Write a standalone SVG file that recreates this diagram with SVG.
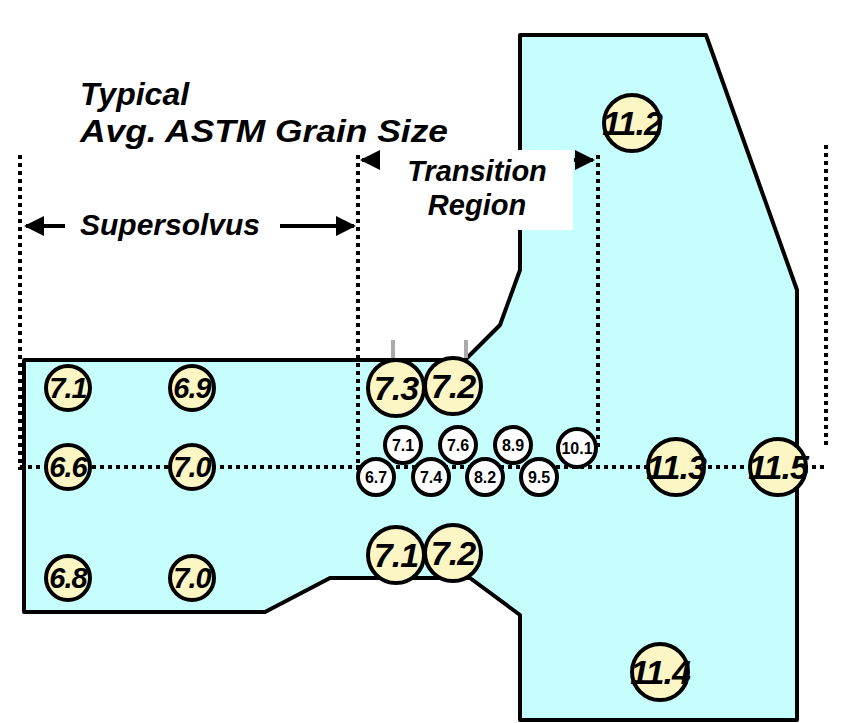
<svg xmlns="http://www.w3.org/2000/svg" width="865" height="723" viewBox="0 0 865 723">
<style>
text{font-family:"Liberation Sans",Arial,sans-serif;font-weight:bold;font-style:italic;fill:#000}
.big circle{fill:#fbf6c4;stroke:#000;stroke-width:4}
.big text{font-size:29px;text-anchor:middle;letter-spacing:-1px}
.l text{font-size:34px}
.sm circle{fill:#fff;stroke:#000;stroke-width:4}
.sm text{font-size:16px;text-anchor:middle;font-style:normal}
.dot{stroke:#000;stroke-width:4;stroke-dasharray:4 4;fill:none}
.ar{stroke:#000;stroke-width:4;fill:none}
</style>
<defs><marker id="ah" viewBox="0 0 10 10" refX="9" refY="5" markerWidth="5" markerHeight="5" orient="auto"><path d="M0,0L10,5L0,10z" fill="#000"/></marker></defs>
<g id="part">
<path d="M24,360L465,360L500,325L520,270L520,35L706,35L797,290L797,720L520,720L520,615L470,578L330,578L265,612L24,612Z" fill="#c6fdfd" stroke="#000" stroke-width="4" stroke-linejoin="round"/>
</g>
<rect x="357" y="150" width="216" height="80" fill="#fff"/>
<g id="connectors">
<path class="dot" d="M20,155V470M358,155V470M598,155V450M826,145V445"/>
<path class="dot" stroke-width="3" d="M20,467H826"/>
<path d="M393,340V358M466,340V358" stroke="#aaa" stroke-width="4"/>
<path class="ar" d="M65,226H26" marker-end="url(#ah)"/>
<path class="ar" d="M280,226H354" marker-end="url(#ah)"/>
<path class="ar" d="M378,160H362" marker-end="url(#ah)"/>
<path class="ar" d="M574,160H593" marker-end="url(#ah)"/>
</g>
<g id="labels">
<text x="80" y="105" font-size="32">Typical</text>
<text x="80" y="142" font-size="32" textLength="368" lengthAdjust="spacingAndGlyphs">Avg. ASTM Grain Size</text>
<text x="170" y="235" font-size="30" text-anchor="middle">Supersolvus</text>
<text x="477" y="181" font-size="29" text-anchor="middle">Transition</text>
<text x="477" y="215" font-size="29" text-anchor="middle">Region</text>
</g>
<g class="big">
<g id="n1"><circle cx="68" cy="388" r="22"/><text x="68" y="398">7.1</text></g>
<g id="n2"><circle cx="192" cy="388" r="22"/><text x="192" y="398">6.9</text></g>
<g id="n3"><circle cx="68" cy="467" r="22"/><text x="68" y="477">6.6</text></g>
<g id="n4"><circle cx="192" cy="467" r="22"/><text x="192" y="477">7.0</text></g>
<g id="n5"><circle cx="68" cy="578" r="22"/><text x="68" y="588">6.8</text></g>
<g id="n6"><circle cx="192" cy="578" r="22"/><text x="192" y="588">7.0</text></g>
</g>
<g class="big l">
<g id="n7"><circle cx="396" cy="388" r="28"/><text x="396" y="400">7.3</text></g>
<g id="n8"><circle cx="453" cy="386" r="28"/><text x="453" y="398">7.2</text></g>
<g id="n9"><circle cx="396" cy="555" r="28"/><text x="396" y="567">7.1</text></g>
<g id="n10"><circle cx="453" cy="553" r="28"/><text x="453" y="565">7.2</text></g>
<g id="n11"><circle cx="632" cy="123" r="28"/><text x="632" y="135">11.2</text></g>
<g id="n12"><circle cx="676" cy="467" r="28"/><text x="676" y="479">11.3</text></g>
<g id="n13"><circle cx="778" cy="467" r="28"/><text x="778" y="479">11.5</text></g>
<g id="n14"><circle cx="660" cy="672" r="28"/><text x="660" y="684">11.4</text></g>
</g>
<g class="sm">
<g id="s1"><circle cx="403" cy="445" r="18"/><text x="403" y="451">7.1</text></g>
<g id="s2"><circle cx="458" cy="445" r="18"/><text x="458" y="451">7.6</text></g>
<g id="s3"><circle cx="513" cy="445" r="18"/><text x="513" y="451">8.9</text></g>
<g id="s4"><circle cx="577" cy="448" r="19"/><text x="577" y="454">10.1</text></g>
<g id="s5"><circle cx="376" cy="477" r="18"/><text x="376" y="483">6.7</text></g>
<g id="s6"><circle cx="431" cy="477" r="18"/><text x="431" y="483">7.4</text></g>
<g id="s7"><circle cx="485" cy="477" r="18"/><text x="485" y="483">8.2</text></g>
<g id="s8"><circle cx="539" cy="477" r="18"/><text x="539" y="483">9.5</text></g>
</g>
</svg>
